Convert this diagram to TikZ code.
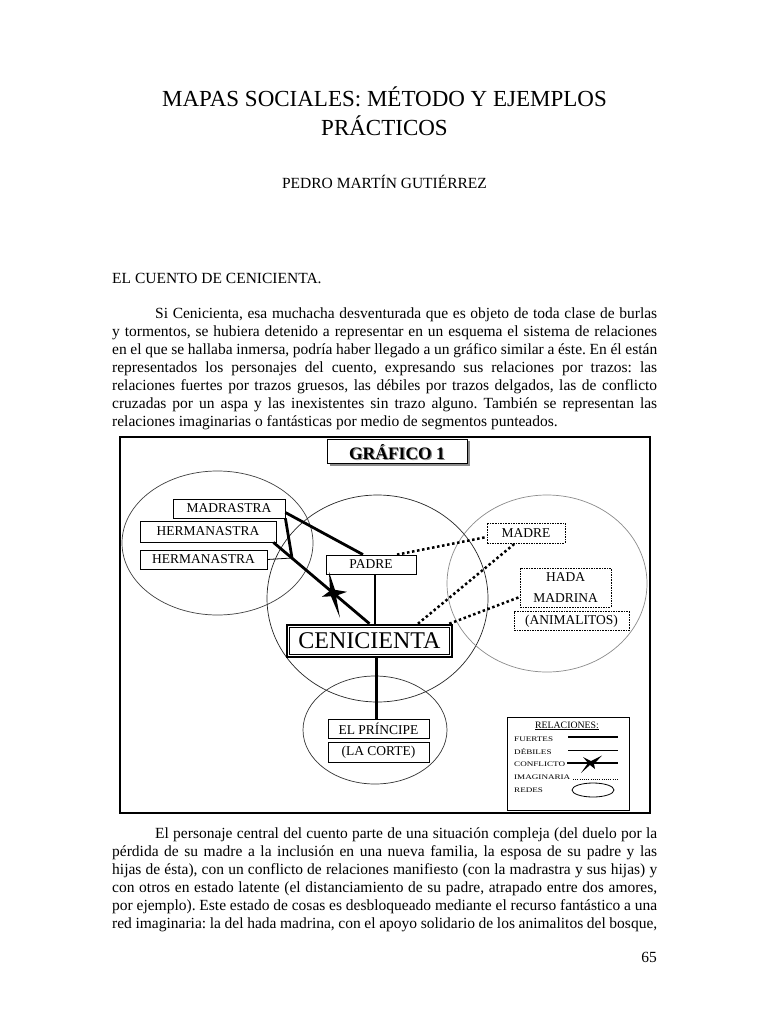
\documentclass[tikz,border=0pt]{standalone}
\usepackage{fontspec}
\setmainfont{Liberation Serif}
\usepackage{graphicx}
\usetikzlibrary{calc,shapes.geometric}
\frenchspacing
\begin{document}
\begin{tikzpicture}[x=1pt,y=-1pt,
  lbl/.style={draw, line width=0.8pt, fill=white, inner sep=0pt, font=\fontsize{13.5}{20.5}\selectfont, align=center},
  imag/.style={lbl, dash pattern=on 1.6pt off 1pt, line width=0.7pt},
  strong/.style={line width=2.8pt},
  weak/.style={line width=0.8pt},
  dots/.style={line width=2.5pt, dash pattern=on 2.5pt off 2.6pt},
  net/.style={line width=0.7pt},
  body/.style={inner sep=0pt, anchor=base west, font=\fontsize{15.5}{18}\selectfont},
  leg/.style={inner sep=0pt, anchor=base west, font=\fontsize{7}{8}\selectfont},
]
\useasboundingbox (0,0) rectangle (768,1024);
\fill[white] (0,0) rectangle (768,1024);

% ---------- page text ----------
\node[anchor=base, inner sep=0pt, font=\fontsize{23}{29}\selectfont] (t1) at (384.5,107) {MAPAS SOCIALES: MÉTODO Y EJEMPLOS};
\node[anchor=base, inner sep=0pt, font=\fontsize{23}{29}\selectfont] (t2) at (384.5,136) {PRÁCTICOS};
\node[anchor=base, inner sep=0pt, font=\fontsize{15.5}{18}\selectfont] (auth) at (384.5,189) {PEDRO MARTÍN GUTIÉRREZ};
\node[body] (sec) at (112,283) {EL CUENTO DE CENICIENTA.};
\node[body] (p1) at (112,318) {\parbox[t]{545pt}{\frenchspacing\noindent\hspace*{43pt}Si Cenicienta, esa muchacha desventurada que es objeto de toda clase de burlas\linebreak
y tormentos, se hubiera detenido a representar en un esquema el sistema de relaciones\linebreak
en el que se hallaba inmersa, podría haber llegado a un gráfico similar a éste. En él están\linebreak
representados los personajes del cuento, expresando sus relaciones por trazos: las\linebreak
relaciones fuertes por trazos gruesos, las débiles por trazos delgados, las de conflicto\linebreak
cruzadas por un aspa y las inexistentes sin trazo alguno. También se representan las\linebreak
relaciones imaginarias o fantásticas por medio de segmentos punteados.}};
\node[body] (p2) at (112,838) {\parbox[t]{545pt}{\frenchspacing\noindent\hspace*{43pt}El personaje central del cuento parte de una situación compleja (del duelo por la\linebreak
pérdida de su madre a la inclusión en una nueva familia, la esposa de su padre y las\linebreak
hijas de ésta), con un conflicto de relaciones manifiesto (con la madrastra y sus hijas) y\linebreak
con otros en estado latente (el distanciamiento de su padre, atrapado entre dos amores,\linebreak
por ejemplo). Este estado de cosas es desbloqueado mediante el recurso fantástico a una\linebreak
red imaginaria: la del hada madrina, con el apoyo solidario de los animalitos del bosque,\parfillskip=0pt\par}};
\node[inner sep=0pt, anchor=base east, font=\fontsize{15.5}{18}\selectfont] (pg) at (657,962) {65};

% ---------- figure frame ----------
\draw[line width=1.2pt] (120,437) rectangle (650,813);

% ---------- networks (ellipses) ----------
\draw[net, black!75] (217.5,543) ellipse [x radius=95.5pt, y radius=72pt];
\draw[net, black!85] (377.5,598.5) ellipse [x radius=110.5pt, y radius=103.5pt];
\draw[net, black!45] (547,583.5) ellipse [x radius=100pt, y radius=88.5pt];
\draw[net, black!80] (375,730) ellipse [x radius=72pt, y radius=54pt];

% ---------- title box ----------
\fill[black!45] (330,441) rectangle (470,466);
\node[draw, fill=white, line width=0.9pt, minimum width=140pt, minimum height=24pt, inner sep=0pt] (gbox) at (397,451) {};
\node[black!45, font=\fontsize{17.5}{20}\bfseries] (gsh) at (398.2,452.8) {GRÁFICO 1};
\node[font=\fontsize{17.5}{20}\bfseries] (gtit) at (397,452) {GRÁFICO 1};

% ---------- person boxes ----------
\node[lbl, minimum width=112pt, minimum height=19pt] (madrastra) at (229,508.5) {MADRASTRA};
\node[lbl, minimum width=136pt, minimum height=21pt] (herm1) at (208,531.5) {HERMANASTRA};
\node[lbl, minimum width=127pt, minimum height=19pt] (herm2) at (203.5,559.5) {HERMANASTRA};
\node[lbl, minimum width=90pt, minimum height=19pt] (padre) at (371,564.5) {PADRE};
\node[lbl, minimum width=101pt, minimum height=19pt] (principe) at (378.5,728.5) {EL PRÍNCIPE};
\node[lbl, minimum width=101pt, minimum height=20pt] (corte) at (378.5,752) {(LA CORTE)};
\node[imag, minimum width=78pt, minimum height=20pt] (madre) at (526,533) {MADRE};
\node[imag, minimum width=91pt, minimum height=39pt] (hada) at (565.5,587.5) {HADA\\MADRINA};
\node[imag, minimum width=115pt, minimum height=19pt] (animalitos) at (571.5,621) {(ANIMALITOS)};
\node[draw, line width=2.6pt, fill=white, inner sep=0pt, minimum width=165pt, minimum height=32pt, font=\fontsize{24}{26}\selectfont] (ceni) at (369.5,641) {CENICIENTA};
\draw[line width=0.7pt] ([xshift=4pt,yshift=-4pt]ceni.north west) rectangle ([xshift=-4pt,yshift=4pt]ceni.south east);

% ---------- relations ----------
\coordinate (J) at (292,558);
\draw[strong] ([yshift=-4pt]madrastra.east) -- ([xshift=-8pt]padre.north);
\draw[strong] (madrastra.south east) -- (J);
\draw[weak] (herm2.east) -- (J);
\draw[strong] ([xshift=-3pt]herm1.south east) -- (ceni.north);
\coordinate (star) at ($([xshift=-3pt]herm1.south east)!0.62!(ceni.north)$);
\fill[shift={(star)}] (-4,-21) -- (2,-3) -- (14,-1) -- (3,3) -- (7,25) -- (-2,3.5) -- (-11,4) -- (-3,-2) -- cycle;
\draw[strong] ([xshift=4pt]padre.south) -- ([xshift=4pt]padre.south |- ceni.north);
\draw[strong] ([xshift=-2pt]principe.north |- ceni.south) -- ([xshift=-2pt]principe.north);
\draw[dots] ([xshift=26pt]padre.north) -- ([yshift=-4pt]madre.west);
\draw[dots] ([xshift=48.5pt]ceni.north) -- ([xshift=-11pt]madre.south);
\draw[dots] ([xshift=-4pt]ceni.north east) -- ([yshift=-9.5pt]hada.west);

% ---------- legend ----------
\node[draw, line width=1pt, minimum width=122pt, minimum height=93pt, inner sep=0pt] (legend) at (568,763.5) {};
\node[anchor=base, inner sep=0pt, font=\fontsize{9.8}{11}\selectfont] (lgt) at (567,728) {\underline{RELACIONES:}};
\node[leg] (lf) at (514,741) {\scalebox{1.3}[1]{FUERTES}};
\node[leg] (ld) at (514,754) {\scalebox{1.3}[1]{DÉBILES}};
\node[leg] (lc) at (514,766.5) {\scalebox{1.3}[1]{CONFLICTO}};
\node[leg] (li) at (514,779) {\scalebox{1.3}[1]{IMAGINARIA}};
\node[leg] (lr) at (514,792) {\scalebox{1.3}[1]{REDES}};
\coordinate (lfa) at (568,737); \coordinate (lfb) at (618,737);
\coordinate (lda) at (568,750.5); \coordinate (ldb) at (618,750.5);
\coordinate (lca) at (567,763); \coordinate (lcb) at (618,763);
\coordinate (lia) at (573,779); \coordinate (lib) at (618,779);
\draw[line width=1.8pt] (lfa) -- (lfb);
\draw[line width=0.8pt] (lda) -- (ldb);
\draw[line width=2.4pt] (lca) -- (lcb);
\fill (583,757) -- (591,761) -- (602,755.5) -- (594,764) -- (595,769) -- (590,765) -- (581,773) -- (588,763) -- cycle;
\draw[line width=1pt, dash pattern=on 0.9pt off 1.3pt] (lia) -- (lib);
\node[draw, ellipse, line width=0.8pt, minimum width=42pt, minimum height=14pt, inner sep=0pt] (lnet) at (593,790) {};
\end{tikzpicture}
\end{document}
